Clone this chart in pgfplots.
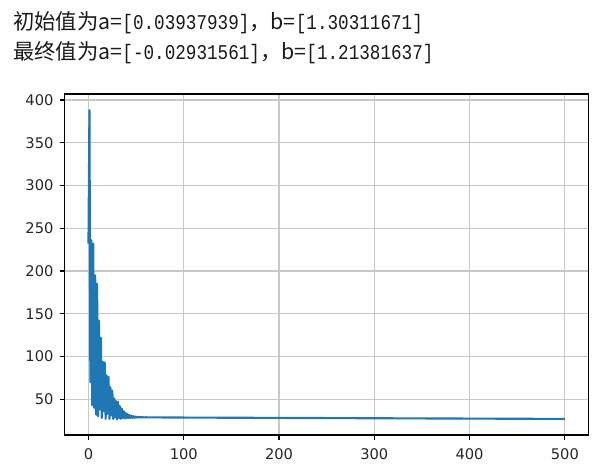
\documentclass[border=0pt]{standalone}
\usepackage{fontspec}
\usepackage{pgfplots}
\pgfplotsset{compat=1.18}
\setmainfont{DejaVu Sans}
\newfontfamily\cjk{Noto Sans CJK SC}
\newfontfamily\mono[FakeStretch=0.84]{Liberation Mono}
\definecolor{mplblue}{HTML}{1F77B4}
\definecolor{gridgray}{HTML}{C8C8C8}
\definecolor{txt}{HTML}{1A1A1A}
\newcommand{\cj}[1]{{\cjk\fontsize{16}{16}\selectfont #1}}
\newcommand{\mn}[1]{{\mono\fontsize{15.75}{16}\selectfont #1}}
\begin{document}
\begin{tikzpicture}
\path[use as bounding box] (0,0) rectangle (451.5pt,351.75pt);
\node[anchor=base west, inner sep=0pt, text=txt] at (9.75pt,329.8pt) {\cj{初始值为a=}\mn{[0.03937939]}\cj{，b=}\mn{[1.30311671]}};
\node[anchor=base west, inner sep=0pt, text=txt] at (9.75pt,307.3pt) {\cj{最终值为a=}\mn{[-0.02931561]}\cj{，b=}\mn{[1.21381637]}};
\begin{axis}[
  at={(48.5pt,25.5pt)}, anchor=south west,
  scale only axis, width=393pt, height=255.75pt,
  xmin=-25, xmax=525, ymin=8.2, ymax=407,
  xtick={0,100,...,500}, ytick={50,100,...,400},
  grid=major,
  major grid style={gridgray, line width=0.8pt},
  axis line style={black, line width=0.8pt},
  tick align=outside, major tick length=3.6pt,
  tick style={black, line width=0.8pt},
  xtick pos=bottom, ytick pos=left,
  tick label style={font=\fontsize{11}{12}\selectfont, text=black!85, inner sep=0pt},
  xticklabel shift=6.2pt, yticklabel shift=4.6pt,
  /pgf/number format/assume math mode=true,
  scaled ticks=false,
]
\addplot[mplblue, line width=1.6pt, line join=round] coordinates {
(0,232) (1,388) (2,70) (3,236) (4,43) (5,232) (6,40) (7,195) (8,32) (9,185)
(10,30) (11,142) (12,38) (13,122) (14,28) (15,94) (16,36) (17,93) (18,27) (19,78)
(20,33) (21,76) (22,27) (23,64) (24,31) (25,60) (26,27) (27,51) (28,29) (29,48)
(30,26.5) (31,47) (32,28) (33,42) (34,27) (35,39) (36,28) (37,36) (38,27.5) (39,34)
(40,28) (41,32.5) (42,28) (43,31.5) (44,28.2) (45,30.8) (46,28.3) (47,30.2) (48,28.4) (49,29.8)
(50,28.5) (51,29.5) (52,28.6) (53,29.3) (54,28.7) (55,29.1) (56,28.8) (57,29.0) (58,28.8) (60,28.9)
(70,28.8) (100,28.6) (150,28.4) (200,28.2) (250,28.0) (300,27.8) (350,27.6) (400,27.4) (450,27.2) (500,27.0)
};
\end{axis}
\end{tikzpicture}
\end{document}
